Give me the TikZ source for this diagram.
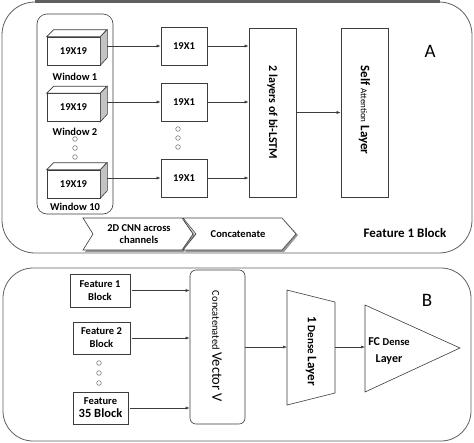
\documentclass[tikz,border=0pt]{standalone}
\usepackage{fontspec}
\setmainfont{Carlito}
\usetikzlibrary{arrows.meta,shapes,positioning,calc}
\definecolor{lineblk}{RGB}{60,60,60}
\definecolor{sidegray}{RGB}{195,195,195}
\definecolor{outgray}{RGB}{95,95,95}
\definecolor{shadowgray}{RGB}{150,150,150}

\begin{document}
\begin{tikzpicture}[x=1pt, y=-1pt,
    every node/.style={font=\bfseries\fontsize{10.5}{13}\selectfont, inner sep=0pt, align=center},
    box/.style={draw=lineblk, fill=white, line width=0.6pt},
    arr/.style={-{Latex[length=4pt,width=3pt]}, line width=0.5pt, lineblk},
    dot/.style={draw=gray, fill=white, line width=0.6pt}]
    \useasboundingbox (0,0) rectangle (474,442);

    % Block A frame
    \draw[outgray, line width=0.8pt, rounded corners=33pt] (2,2) rectangle (472,253);
    \draw[outgray, line width=3pt] (35,1.5) -- (440,1.5);

    % Windows (2D inputs)
    \node[draw=lineblk, line width=0.6pt, rounded corners=10pt, minimum width=76pt, minimum height=200pt] (win) at (75,114) {};
    \foreach \n/\y in {1/51, 2/107.5, 3/184}{
        \node[box, minimum width=53pt, minimum height=28pt] (w\n) at (73.5,\y) {19X19};
        \draw[box] (w\n.north west) -- ++(7,-7) -- ++(53,0) -- (w\n.north east) -- cycle;
        \draw[box, fill=sidegray] (w\n.north east) -- ++(7,-7) -- ++(0,28) -- (w\n.south east) -- cycle;
    }
    \node (wl1) at (75,77) {Window 1};
    \node (wl2) at (75,132) {Window 2};
    \node (wl3) at (75,207) {Window 10};
    \foreach \y in {139,148,157} \draw[dot] (75,\y) circle (2.3pt);

    % CNN outputs
    \node[box, minimum width=46pt, minimum height=38pt] (c1) at (184,46) {19X1};
    \node[box, minimum width=46pt, minimum height=38pt] (c2) at (184,102) {19X1};
    \node[box, minimum width=46pt, minimum height=38pt] (c3) at (184,178) {19X1};
    \foreach \y in {129,138,147} \draw[dot] (178,\y) circle (2.3pt);
    \foreach \n in {1,2,3}
        \draw[arr] ($(w\n.east |- c\n.west)+(7,0)$) -- (c\n.west);

    % bi-LSTM and attention
    \node[box, minimum width=47pt, minimum height=169pt] (lstm) at (272.5,112.5) {};
    \node[rotate=-90, font=\bfseries\fontsize{12}{14}\selectfont] (lstmtxt) at (lstm.center) {2 layers of bi-LSTM};
    \node[box, minimum width=47pt, minimum height=169pt] (sa) at (364.5,112.5) {};
    \node[rotate=-90, font=\bfseries\fontsize{13}{15}\selectfont] (satxt) at (364.5,110) {Self {\mdseries\fontsize{9}{10}\selectfont Attention} Layer};
    \foreach \n in {1,2,3}
        \draw[arr] (c\n.east) -- (c\n.east -| lstm.west);
    \draw[arr] (lstm.east) -- (lstm.east -| sa.west);

    \node[font=\mdseries\fontsize{19}{22}\selectfont] (lbla) at (430,51) {A};
    \node[font=\bfseries\fontsize{13}{15}\selectfont] (blk1) at (405,233) {Feature 1 Block};

    % Steps
    \fill[shadowgray] (85,220) -- (184,220) -- (195,235) -- (184,252) -- (85,252) -- (95,235) -- cycle;
    \draw[box] (83,218) -- (182,218) -- (193,234) -- (182,250) -- (83,250) -- (93,234) -- cycle;
    \node[font=\bfseries\fontsize{10.5}{12}\selectfont] (cnn) at (139,234) {2D CNN across\\channels};
    \fill[shadowgray] (185,220) -- (284,220) -- (298,235) -- (284,252) -- (185,252) -- (198,235) -- cycle;
    \draw[box] (183,218) -- (282,218) -- (296,234) -- (282,250) -- (183,250) -- (196,234) -- cycle;
    \node (cat) at (238,234) {Concatenate};

    % Block B frame
    \draw[outgray, line width=0.8pt, rounded corners=30pt] (3,268) rectangle (471,441);

    % Feature blocks
    \node[box, minimum width=60pt, minimum height=33pt] (f1) at (100,290.5) {Feature 1\\Block};
    \node[box, minimum width=57pt, minimum height=32pt] (f2) at (101.5,338) {Feature 2\\Block};
    \node[box, minimum width=55pt, minimum height=32pt] (f35) at (100.5,408) {Feature\\{\fontsize{12.5}{13}\selectfont 35 Block}};
    \foreach \y in {363,373,383} \draw[dot] (99,\y) circle (2.3pt);

    % Concatenated vector
    \node[box, rounded corners=6pt, minimum width=55pt, minimum height=154pt] (vec) at (217.5,347) {};
    \node[rotate=-90, font=\mdseries] (vectxt) at (217,346.5) {{\fontsize{10.5}{12}\selectfont Concatenated} {\fontsize{14.5}{16}\selectfont Vector V}};
    \foreach \f in {f1,f2,f35}
        \draw[arr, shorten <=2pt] (\f.east) -- (\f.east -| vec.west);

    % Dense layers
    \draw[box] (287,290) -- (335,302) -- (335,393) -- (287,405) -- cycle;
    \coordinate (dl) at (287,347);
    \coordinate (dr) at (335,347);
    \node[rotate=-90, font=\bfseries\fontsize{13}{15}\selectfont] (dltxt) at (311,351) {1 {\fontsize{11}{12}\selectfont Dense} Layer};
    \draw[box] (365,305) -- (460,348) -- (365,392) -- cycle;
    \coordinate (fcl) at (365,347);
    \node[font=\bfseries\fontsize{12}{17}\selectfont] (fctxt) at (389,351) {FC {\fontsize{10.5}{12}\selectfont Dense}\\Layer};
    \draw[arr] (vec.east) -- (dl);
    \draw[arr] (dr) -- (fcl);

    \node[font=\mdseries\fontsize{19}{22}\selectfont] (lblb) at (427,300) {B};
\end{tikzpicture}
\end{document}
